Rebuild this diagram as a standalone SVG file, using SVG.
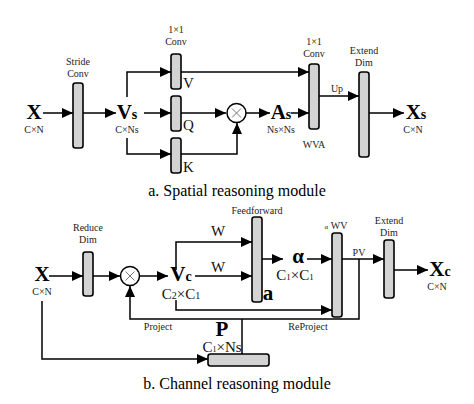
<svg xmlns="http://www.w3.org/2000/svg" width="474" height="404" viewBox="0 0 474 404">
<defs>
<marker id="ah" markerUnits="userSpaceOnUse" markerWidth="12" markerHeight="10" refX="11" refY="5" orient="auto">
<path d="M0,0 L11,5 L0,10 Z" fill="#000"/>
</marker>
<style>
text{font-family:"Liberation Serif","DejaVu Serif",serif}
.box{fill:#d3d3d3;stroke:#000;stroke-width:1.6}
.ln{fill:none;stroke:#000;stroke-width:1.5}
.ar{fill:none;stroke:#000;stroke-width:1.5;marker-end:url(#ah)}
.lb{font-size:10px;fill:#222;text-anchor:middle}
.big{font-size:21px;font-weight:bold;text-anchor:middle}
.mid{font-size:15px;fill:#111}
.cap{font-size:16px;text-anchor:middle}
.ox{fill:#fff;stroke:#000;stroke-width:1.5}
.oxl{stroke:#777;stroke-width:1}
</style>
</defs>
<g id="connectors">
<line class="ar" x1="43" y1="113" x2="73" y2="113"/>
<line class="ar" x1="83" y1="113" x2="116" y2="113"/>
<polyline class="ar" points="127,97 127,72 171,72"/>
<line class="ar" x1="144" y1="113" x2="171" y2="113"/>
<polyline class="ar" points="127,138 127,154 171,154"/>
<line class="ar" x1="181" y1="113" x2="226" y2="113"/>
<polyline class="ar" points="181,154 237,154 237,123"/>
<line class="ar" x1="181" y1="72" x2="309" y2="72"/>
<line class="ar" x1="246" y1="113" x2="270" y2="113"/>
<line class="ar" x1="291" y1="113" x2="309" y2="113"/>
<line class="ar" x1="319" y1="96" x2="359" y2="96"/>
<line class="ar" x1="369" y1="113" x2="404" y2="113"/>
<line class="ar" x1="49" y1="276" x2="83" y2="276"/>
<line class="ar" x1="93" y1="276" x2="120" y2="276"/>
<line class="ar" x1="140" y1="276" x2="168" y2="276"/>
<polyline class="ar" points="176,270 176,242 252,242"/>
<line class="ar" x1="195" y1="276" x2="252" y2="276"/>
<polyline class="ar" points="176,300 176,310 332,310"/>
<line class="ar" x1="262" y1="259" x2="283" y2="259"/>
<line class="ar" x1="307" y1="259" x2="332" y2="259"/>
<line class="ar" x1="342" y1="259" x2="384" y2="259"/>
<polyline class="ar" points="359,259 359,319 130,319 130,286"/>
<line class="ln" x1="242" y1="319" x2="242" y2="354"/>
<polyline class="ar" points="42,301 42,359 208,359"/>
<line class="ar" x1="394" y1="270" x2="428" y2="270"/>
</g>
<g id="stride_conv"><rect class="box" x="73" y="83" width="10" height="65" rx="2.5"/><text class="lb" x="78" y="65">Stride</text><text class="lb" x="78" y="77">Conv</text></g>
<g id="conv_v"><rect class="box" x="171" y="54" width="10" height="35" rx="2.5"/><text class="lb" x="176" y="33">1×1</text><text class="lb" x="176" y="45">Conv</text><text class="mid" x="183" y="88">V</text></g>
<g id="conv_q"><rect class="box" x="171" y="96" width="10" height="35" rx="2.5"/><text class="mid" x="183" y="130">Q</text></g>
<g id="conv_k"><rect class="box" x="171" y="138" width="10" height="35" rx="2.5"/><text class="mid" x="183" y="172">K</text></g>
<g id="mul_top"><circle class="ox" cx="236.5" cy="113" r="9.5"/><path class="oxl" d="M232,108.5 L241,117.5 M241,108.5 L232,117.5"/></g>
<g id="conv_wva"><rect class="box" x="309" y="64" width="10" height="65" rx="2.5"/><text class="lb" x="314" y="45">1×1</text><text class="lb" x="314" y="57">Conv</text><text class="lb" x="314" y="148">WVA</text><text class="lb" x="337" y="92">Up</text></g>
<g id="extend_top"><rect class="box" x="359" y="72" width="10" height="85" rx="2.5"/><text class="lb" x="364" y="54">Extend</text><text class="lb" x="364" y="66">Dim</text></g>
<g id="x_top"><text class="big" x="34" y="119">X</text><text class="lb" x="34" y="133">C×N</text></g>
<g id="vs"><text class="big" x="127" y="119">V<tspan font-size="14">s</tspan></text><text class="lb" x="127" y="133">C×Ns</text></g>
<g id="as"><text class="big" x="281" y="119">A<tspan font-size="14">s</tspan></text><text class="lb" x="281" y="133">Ns×Ns</text></g>
<g id="xs"><text class="big" x="416" y="119">X<tspan font-size="14">s</tspan></text><text class="lb" x="413" y="133">C×N</text></g>
<text class="cap" x="237" y="196">a. Spatial reasoning module</text>
<g id="reduce_dim"><rect class="box" x="83" y="252" width="10" height="44" rx="2.5"/><text class="lb" x="88" y="231">Reduce</text><text class="lb" x="88" y="243">Dim</text></g>
<g id="mul_bot"><circle class="ox" cx="130" cy="276" r="9.5"/><path class="oxl" d="M125.5,271.5 L134.5,280.5 M134.5,271.5 L125.5,280.5"/></g>
<g id="x_bot"><text class="big" x="42" y="281">X</text><text class="lb" x="42" y="295">C×N</text></g>
<g id="vc"><text class="big" x="181" y="281">V<tspan font-size="14">c</tspan></text><text class="mid" x="181" y="299" text-anchor="middle" font-size="13">C<tspan font-size="10">2</tspan>×C<tspan font-size="10">1</tspan></text></g>
<text class="mid" x="218" y="236" text-anchor="middle" font-size="14">W</text>
<text class="mid" x="218" y="272" text-anchor="middle" font-size="14">W</text>
<g id="feedforward"><rect class="box" x="252" y="217" width="10" height="85" rx="2.5"/><text class="lb" x="257" y="214">Feedforward</text><text class="big" x="268" y="300" font-size="17">a</text></g>
<g id="alpha"><text class="big" x="298" y="263" font-size="20">α</text><text class="mid" x="295" y="280" text-anchor="middle" font-size="12">C<tspan font-size="9">1</tspan>×C<tspan font-size="9">1</tspan></text></g>
<g id="awv"><rect class="box" x="332" y="233" width="10" height="84" rx="2.5"/><text class="lb" x="336" y="229"><tspan font-size="7">α</tspan> WV</text><text class="lb" x="359" y="256">PV</text></g>
<g id="extend_bot"><rect class="box" x="384" y="240" width="10" height="58" rx="2.5"/><text class="lb" x="389" y="224">Extend</text><text class="lb" x="389" y="236">Dim</text></g>
<g id="xc"><text class="big" x="440" y="276">X<tspan font-size="14">c</tspan></text><text class="lb" x="437" y="290">C×N</text></g>
<text class="lb" x="158" y="330">Project</text>
<text class="lb" x="308" y="330">ReProject</text>
<g id="p"><rect class="box" x="208" y="354" width="61" height="12" rx="2.5"/><text class="big" x="222" y="336" font-size="18">P</text><text class="mid" x="222" y="352" text-anchor="middle" font-size="11">C<tspan font-size="8">1</tspan>×Ns</text></g>
<text class="cap" x="237" y="389">b. Channel reasoning module</text>
</svg>
